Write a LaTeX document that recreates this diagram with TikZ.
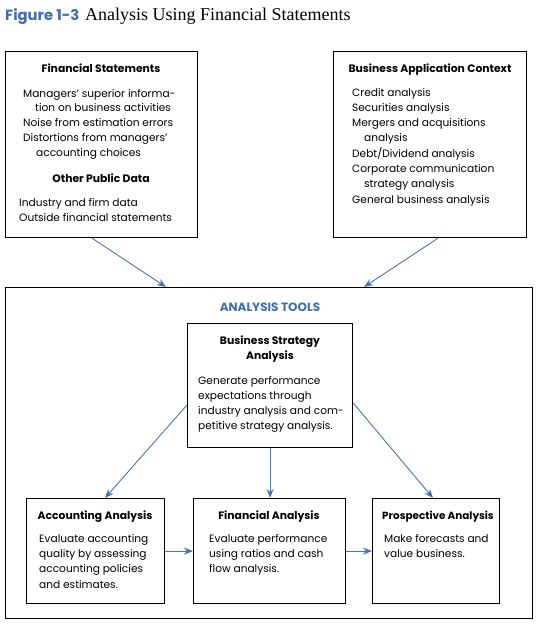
\documentclass[tikz,border=0pt]{standalone}
\usepackage{fontspec}
\setmainfont{Poppins}
\newfontfamily\titleserif{Liberation Serif}
\usetikzlibrary{arrows.meta}
\definecolor{figblue}{HTML}{3F6DB5}
\definecolor{arrblue}{HTML}{4A72B8}
\begin{document}
\begin{tikzpicture}[x=1pt,y=-1pt,
 box/.style={draw=black, line width=1.2pt, inner sep=0pt, anchor=north west},
 txt/.style={anchor=base west, inner sep=0pt, font=\fontsize{10.6}{12}\selectfont},
 ttl/.style={anchor=base, inner sep=0pt, font=\fontsize{10.8}{12}\selectfont\bfseries},
 arr/.style={draw=arrblue, line width=0.9pt, -{Stealth[length=9pt,width=7pt]}}]
\useasboundingbox[fill=white] (0,0) rectangle (547,633);
% title
\node[anchor=base west, inner sep=0pt, text=figblue, font=\fontsize{14.8}{16}\selectfont\bfseries] (fig) at (5,20) {Figure 1-3};
\node[anchor=base west, inner sep=0pt, font=\fontsize{18}{20}\selectfont\titleserif] (figt) at (85,20.5) {Analysis Using Financial Statements};
% boxes
\node[box, minimum width=192pt, minimum height=186pt] (fs) at (5,51) {};
\node[box, minimum width=193pt, minimum height=186pt] (bac) at (333,51) {};
\node[box, minimum width=527pt, minimum height=331pt] (tools) at (5,287) {};
\node[box, minimum width=165pt, minimum height=124pt] (bsa) at (187,323) {};
\node[box, minimum width=138pt, minimum height=105pt] (acc) at (26,498) {};
\node[box, minimum width=152pt, minimum height=105pt] (fin) at (193,498) {};
\node[box, minimum width=127pt, minimum height=105pt] (pro) at (372,498) {};
% FS text
\node[ttl] (fst) at (101,72) {Financial Statements};
\node[txt] (fs1) at (23,97) {Managers’ superior informa-};
\node[txt] (fs2) at (35,111.5) {tion on business activities};
\node[txt] (fs3) at (23,126.5) {Noise from estimation errors};
\node[txt] (fs4) at (23,141.5) {Distortions from managers’};
\node[txt] (fs5) at (36,156.5) {accounting choices};
\node[ttl] (opd) at (101,182) {Other Public Data};
\node[txt] (op1) at (19,206) {Industry and firm data};
\node[txt] (op2) at (19,221) {Outside financial statements};
% BAC text
\node[ttl] (bact) at (430,72) {Business Application Context};
\node[txt] (b1) at (352,96) {Credit analysis};
\node[txt] (b2) at (352,111) {Securities analysis};
\node[txt] (b3) at (352,126) {Mergers and acquisitions};
\node[txt] (b4) at (364,141.5) {analysis};
\node[txt] (b5) at (352,157) {Debt/Dividend analysis};
\node[txt] (b6) at (352,172) {Corporate communication};
\node[txt] (b7) at (364,187.5) {strategy analysis};
\node[txt] (b8) at (352,203) {General business analysis};
% tools
\node[ttl, text=figblue, font=\fontsize{12}{13}\selectfont\bfseries] (tt) at (270,311) {ANALYSIS TOOLS};
\node[ttl] (bsat1) at (270,344) {Business Strategy};
\node[ttl] (bsat2) at (270,359) {Analysis};
\node[txt] (s1) at (198,384) {Generate performance};
\node[txt] (s2) at (198,399) {expectations through};
\node[txt] (s3) at (198,414) {industry analysis and com-};
\node[txt] (s4) at (198,429) {petitive strategy analysis.};
% bottom
\node[ttl] (acct) at (95,519) {Accounting Analysis};
\node[txt] (a1) at (39,542) {Evaluate accounting};
\node[txt] (a2) at (39,557) {quality by assessing};
\node[txt] (a3) at (39,572) {accounting policies};
\node[txt] (a4) at (39,588) {and estimates.};
\node[ttl] (fint) at (269,519) {Financial Analysis};
\node[txt] (f1) at (209,542) {Evaluate performance};
\node[txt] (f2) at (209,557) {using ratios and cash};
\node[txt] (f3) at (209,572) {flow analysis.};
\node[ttl, anchor=base west, font=\fontsize{10.4}{12}\selectfont\bfseries] (prot) at (382,519) {Prospective Analysis};
\node[txt] (p1) at (384,542) {Make forecasts and};
\node[txt] (p2) at (384,557) {value business.};
% arrows
\draw[arr] ([xshift=87pt]fs.south west) -- ([xshift=161pt]tools.north west);
\draw[arr] ([xshift=105pt]bac.south west) -- ([xshift=359pt]tools.north west);
\draw[arr] ([yshift=-82pt]bsa.north west) -- ([xshift=79pt]acc.north west);
\draw[arr] (bsa.south) -- (fin.north -| bsa.south);
\draw[arr] ([yshift=-80pt]bsa.north east) -- ([xshift=61pt]pro.north west);
\draw[arr] (acc.east) -- (fin.west);
\draw[arr] (fin.east) -- (pro.west);
\end{tikzpicture}
\end{document}
